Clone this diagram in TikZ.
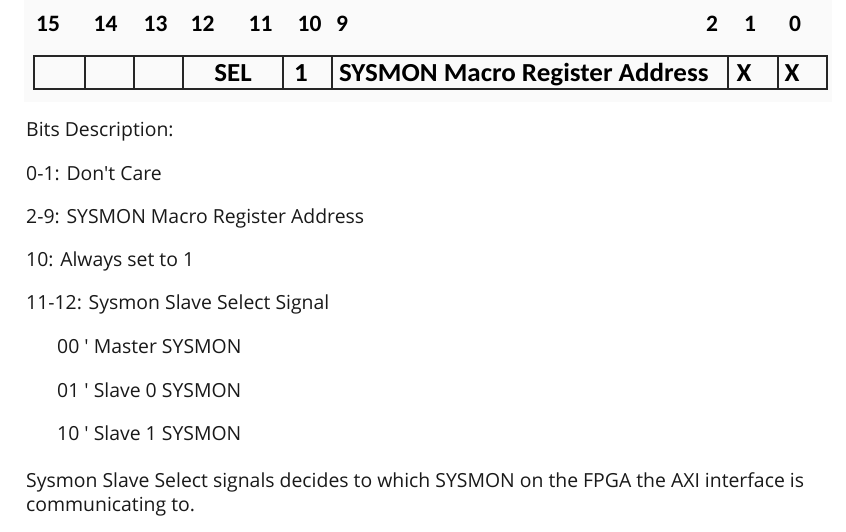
\documentclass[tikz,border=0pt]{standalone}
\usepackage{fontspec}
\newfontfamily\bodyf{Open Sans}
\newfontfamily\hdr{Carlito}
\newfontfamily\hdrw{Carlito}[FakeStretch=1.04]
\begin{document}
\begin{tikzpicture}[x=1pt,y=-1pt,
  hnum/.style={font=\hdr\bfseries\fontsize{23.5}{23.5}\selectfont,anchor=base,inner sep=0pt},
  btxt/.style={font=\hdrw\bfseries\fontsize{26}{26}\selectfont,anchor=base,inner sep=0pt},
  body/.style={font=\bodyf\fontsize{19.4}{19.4}\selectfont,anchor=base west,inner sep=0pt,text=black!90},
  cell/.style={draw=black!85,line width=1.3pt}]
\useasboundingbox (0,0) rectangle (846,532);
\fill[black!2] (24,0) rectangle (832,102);
% header numbers
\node[hnum] (n15) at (48,31.5) {15};
\node[hnum] (n14) at (105.5,31.5) {14};
\node[hnum] (n13) at (155.5,31.5) {13};
\node[hnum] (n12) at (202.5,31.5) {12};
\node[hnum] (n11) at (260.5,31.5) {11};
\node[hnum] (n10) at (309.5,31.5) {10};
\node[hnum] (n9) at (342,31.5) {9};
\node[hnum] (n2) at (712,31.5) {2};
\node[hnum] (n1) at (750,31.5) {1};
\node[hnum] (n0) at (795,31.5) {0};
% register box
\draw[cell] (34,56) rectangle (827,89);
\foreach \xx in {85,134,183,283,332,728,778}
  \draw[cell] (\xx,56) -- (\xx,89);
\node[btxt] (sel) at (233,82) {SEL};
\node[btxt] (one) at (301,82) {1};
\node[btxt,anchor=base west] (addr) at (339,82) {SYSMON Macro Register Address};
\node[btxt] (x1) at (744,82) {X};
\node[btxt] (x0) at (792,82) {X};
% description
\node[body] (t1) at (26,137) {Bits Description:};
\node[body] (t2) at (26,180) {0-1: Don't Care};
\node[body] (t3) at (26,223) {2-9: SYSMON Macro Register Address};
\node[body] (t4) at (26,266) {10: Always set to 1};
\node[body] (t5) at (26,309.5) {11-12: Sysmon Slave Select Signal};
\node[body] (t6) at (57,353) {00 ' Master SYSMON};
\node[body] (t7) at (57,397) {01 ' Slave 0 SYSMON};
\node[body] (t8) at (57,440) {10 ' Slave 1 SYSMON};
\node[body] (t9) at (26,487) {Sysmon Slave Select signals decides to which SYSMON on the FPGA the AXI interface is};
\node[body] (t10) at (26,511) {communicating to.};
\end{tikzpicture}
\end{document}
